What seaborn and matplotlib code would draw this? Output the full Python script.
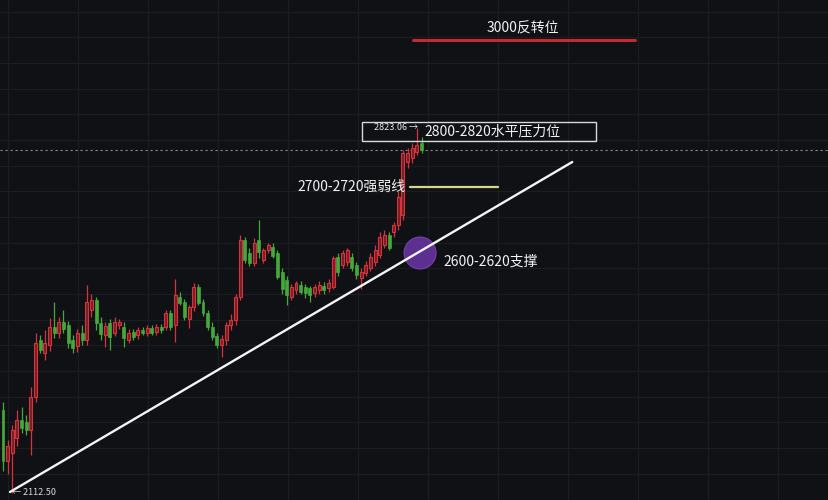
import matplotlib
matplotlib.use("Agg")
import matplotlib.pyplot as plt
from matplotlib.patches import Rectangle, Ellipse
import numpy as np
import pandas as pd
import seaborn as sns

# ---- candle data (price) ----
opens = [2275, 2175, 2190, 2220, 2255, 2250, 2235, 2300, 2410, 2385,
         2400, 2435, 2425, 2445, 2440, 2410, 2398, 2425, 2410, 2470,
         2488, 2444, 2420, 2444, 2425, 2440, 2436, 2411, 2426, 2420,
         2430, 2424, 2434, 2426, 2436, 2436, 2463, 2440, 2494, 2485,
         2452, 2475, 2514, 2485, 2463, 2436, 2418, 2400, 2410, 2440,
         2450, 2494, 2605, 2580, 2561, 2605, 2566, 2586, 2592, 2580,
         2543, 2527, 2494, 2508, 2518, 2514, 2512, 2502, 2508, 2516,
         2512, 2514, 2572, 2557, 2562, 2572, 2557, 2531, 2541, 2551,
         2562, 2576, 2596, 2615, 2621, 2635, 2654, 2757, 2765, 2777,
         2794]
highs = [2290, 2215, 2245, 2275, 2280, 2265, 2320, 2425, 2420, 2430,
         2453, 2485, 2455, 2470, 2448, 2420, 2432, 2440, 2518, 2500,
         2495, 2455, 2445, 2452, 2455, 2452, 2445, 2432, 2432, 2436,
         2436, 2440, 2440, 2442, 2442, 2470, 2470, 2530, 2505, 2490,
         2478, 2522, 2520, 2490, 2470, 2445, 2424, 2420, 2445, 2462,
         2500, 2615, 2611, 2590, 2610, 2645, 2590, 2600, 2600, 2585,
         2550, 2535, 2520, 2525, 2525, 2520, 2516, 2520, 2525, 2524,
         2530, 2575, 2580, 2585, 2590, 2580, 2562, 2550, 2565, 2580,
         2595, 2620, 2625, 2620, 2640, 2700, 2780, 2785, 2795, 2823.06,
         2805]
lows = [2155, 2150, 2112.5, 2205, 2230, 2225, 2187, 2290, 2385, 2372,
        2390, 2415, 2415, 2425, 2395, 2385, 2388, 2400, 2400, 2455,
        2430, 2410, 2397, 2391, 2418, 2432, 2397, 2405, 2410, 2412,
        2420, 2418, 2420, 2420, 2425, 2430, 2430, 2407, 2478, 2450,
        2434, 2468, 2478, 2458, 2430, 2410, 2395, 2378, 2400, 2430,
        2440, 2488, 2560, 2555, 2555, 2570, 2560, 2580, 2570, 2530,
        2500, 2479, 2488, 2500, 2500, 2492, 2485, 2495, 2500, 2500,
        2505, 2510, 2535, 2550, 2555, 2545, 2530, 2510, 2535, 2545,
        2555, 2570, 2590, 2585, 2612, 2625, 2645, 2745, 2755, 2770,
        2775]
closes = [2175, 2205, 2235, 2255, 2240, 2235, 2300, 2405, 2392, 2405,
          2435, 2425, 2445, 2432, 2405, 2395, 2425, 2410, 2485, 2488,
          2444, 2422, 2438, 2417, 2446, 2446, 2415, 2424, 2416, 2430,
          2424, 2434, 2424, 2436, 2430, 2463, 2436, 2498, 2483, 2455,
          2475, 2514, 2483, 2463, 2436, 2416, 2401, 2412, 2440, 2450,
          2494, 2605, 2566, 2561, 2600, 2582, 2586, 2596, 2575, 2533,
          2510, 2498, 2514, 2522, 2504, 2502, 2498, 2514, 2518, 2508,
          2522, 2570, 2543, 2580, 2586, 2551, 2537, 2543, 2557, 2572,
          2586, 2611, 2615, 2590, 2635, 2690, 2775, 2775, 2785, 2790,
          2780]

# ---- key levels and labels ----
low_label = "← 2112.50"
high_label = "2823.06 →"
level_reversal = 2995
label_reversal = "3000反转位"
resist_box = (2798, 2835)
label_resist = "2800-2820水平压力位"
level_mid = 2709
label_mid = "2700-2720强弱线"
support_center = 2580
label_support = "2600-2620支撑"
last_price = 2780
trend_start = (1.5, 2114.7)
trend_end = (122.4, 2757.2)

df = pd.DataFrame({"open": opens, "high": highs, "low": lows, "close": closes})
df["idx"] = np.arange(len(df))
df["up"] = df["close"] >= df["open"]

BG = "#101115"
RED = "#d3343d"
GREEN = "#45a83a"
GRID = "#1b1d22"

sns.set_theme(style="dark", rc={"axes.facecolor": BG, "figure.facecolor": BG})
plt.rcParams["font.family"] = ["Noto Sans CJK SC", "DejaVu Sans"]

fig = plt.figure(figsize=(8.29, 5.0), dpi=100)
ax = fig.add_axes([0, 0, 1, 1])
ax.set_facecolor(BG)

x_min, x_max = -0.645, 177.6
y_min, y_max = 2099.1, 3072.6
ax.set_xlim(x_min, x_max)
ax.set_ylim(y_min, y_max)

# one candle step is 4.65 px, one price unit is 1/1.947 px
px_x = (x_max - x_min) / 829
px_y = (y_max - y_min) / 500

# grid
for p in np.arange(2100, 3100, 50):
    ax.axhline(p, color=GRID, lw=0.9, zorder=0)
for gx in np.arange(1.08, x_max, 15.05):
    ax.axvline(gx, color=GRID, lw=0.9, zorder=0)

# wicks
colors = np.where(df["up"], RED, GREEN)
ax.vlines(df["idx"], df["low"], df["high"], colors=colors, lw=0.9, zorder=2)

# bodies
body_w = 0.64
up = df[df["up"]]
dn = df[~df["up"]]
ax.bar(up["idx"], (up["close"] - up["open"]).clip(lower=1.5), bottom=up["open"],
       width=body_w, color="#7a1e25", edgecolor=RED, linewidth=0.8, zorder=3)
ax.bar(dn["idx"], (dn["open"] - dn["close"]).clip(lower=1.5), bottom=dn["close"],
       width=body_w, color=GREEN, edgecolor=GREEN, linewidth=0.5, zorder=3)

# last price dashed line
ax.axhline(last_price, color="#7f8c8c", lw=0.8, ls=(0, (2, 2.5)), zorder=1)

# 3000 reversal level
ax.plot([88.2, 135.9], [level_reversal, level_reversal], color="#c42a30", lw=2.2, zorder=4)
ax.text(111.8, 3018, label_reversal, color="#f2f2f2", fontsize=10,
        ha="center", va="center", zorder=5)

# resistance box
ax.add_patch(Rectangle((77.2, resist_box[0]), 50.2, resist_box[1] - resist_box[0],
                       fill=False, edgecolor="#d8d8d8", lw=1.0, zorder=5))
ax.text(79.8, 2825, high_label, color="#e8e8e8", fontsize=6.5, ha="left",
        va="center", zorder=6)
ax.text(90.6, 2816, label_resist, color="#f2f2f2", fontsize=10, ha="left",
        va="center", zorder=6)

# mid level line
ax.plot([87.5, 106.5], [level_mid, level_mid], color="#d6d68a", lw=1.6, zorder=4)
ax.text(86.5, level_mid, label_mid, color="#f2f2f2", fontsize=10, ha="right",
        va="center", zorder=6)

# support marker (round on screen: 32 px across)
cx = (420 - 3) / 4.65
ax.add_patch(Ellipse((cx, support_center), width=32 * px_x, height=32 * px_y,
                     facecolor="#6b35a8", edgecolor="#7d45bb", lw=0.8,
                     alpha=0.85, zorder=4))
ax.text(94.6, 2563, label_support, color="#f2f2f2", fontsize=10, ha="left",
        va="center", zorder=6)

# trend line
ax.plot([trend_start[0], trend_end[0]], [trend_start[1], trend_end[1]],
        color="#f4f4f4", lw=1.7, zorder=5, solid_capstyle="round")

ax.text(1.9, 2113, low_label, color="#d8d8d8", fontsize=6.5, ha="left",
        va="center", zorder=6)

ax.set_xticks([])
ax.set_yticks([])
for s in ax.spines.values():
    s.set_visible(False)

fig.savefig("out.png", dpi=100, facecolor=BG)
